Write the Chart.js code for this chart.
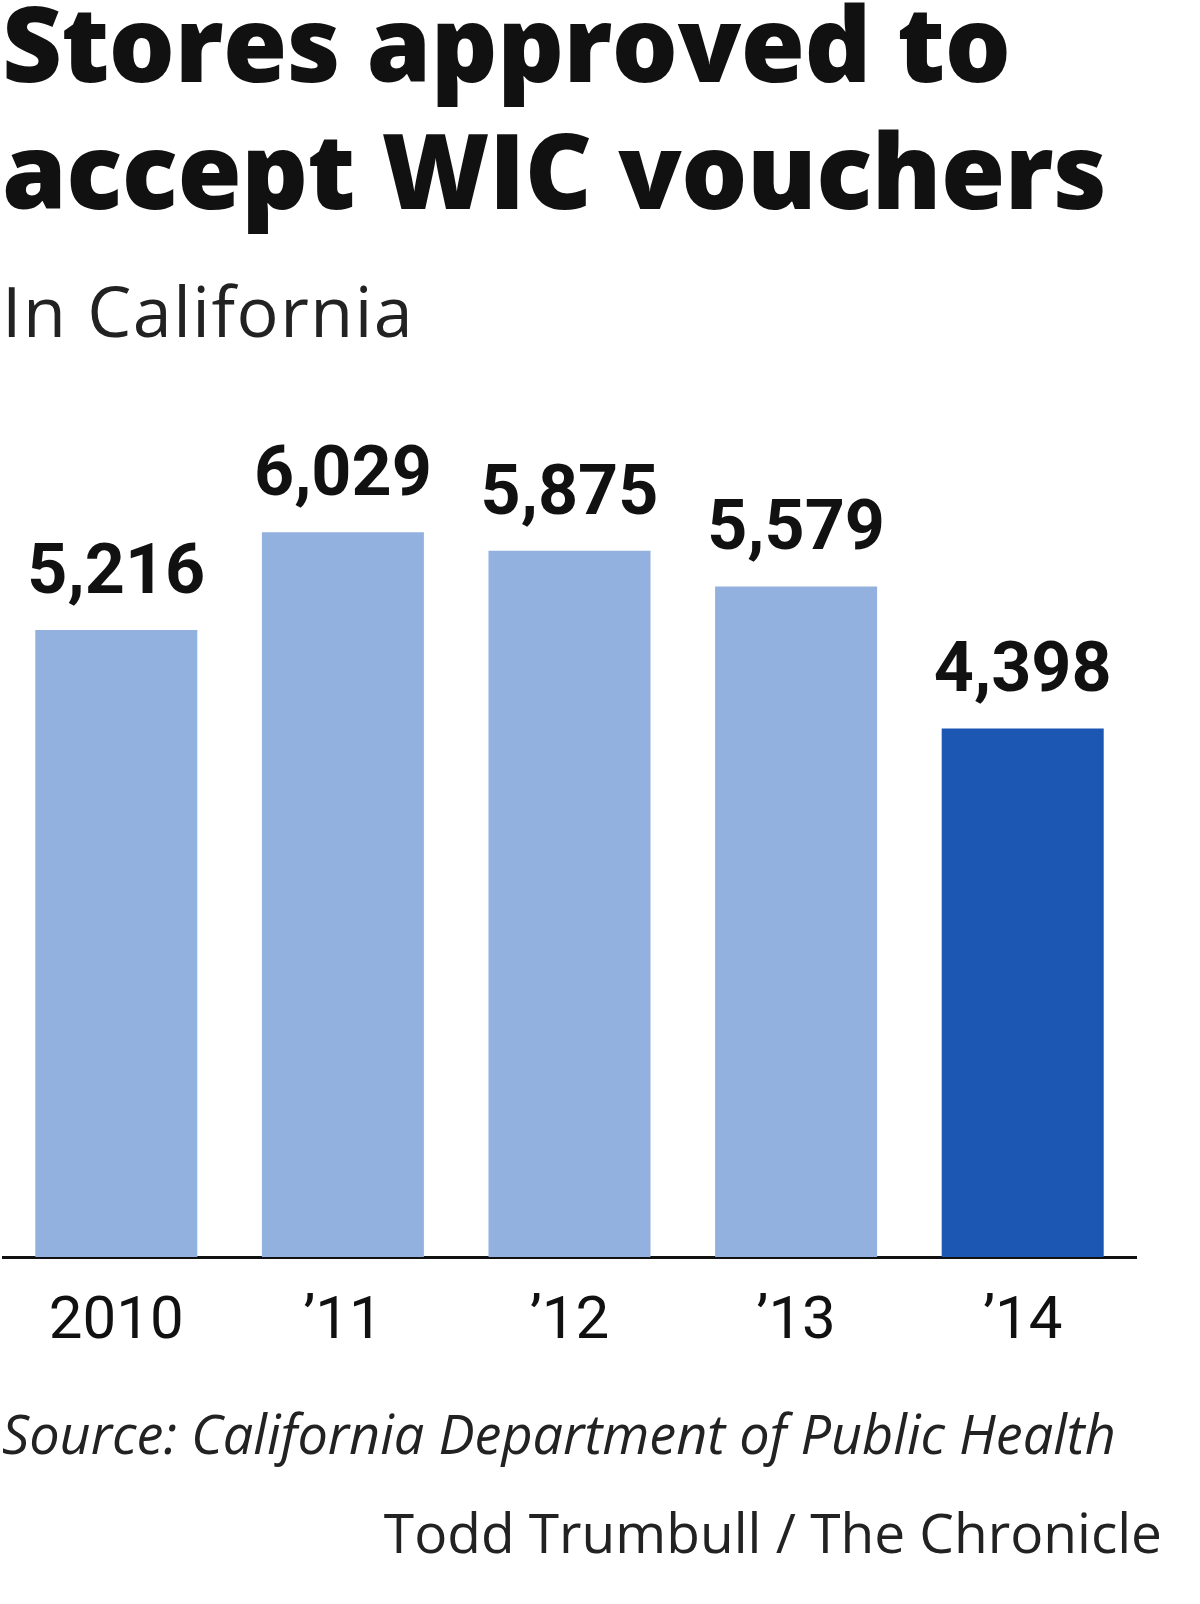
<!DOCTYPE html>
<html><head><meta charset="utf-8">
<script src="https://cdn.jsdelivr.net/npm/chart.js@4"></script>
<style>
body{margin:0;width:1200px;height:1604px;background:#fff;position:relative;overflow:hidden;font-family:"Open Sans";color:#111}
.t{position:absolute;left:2px;white-space:nowrap}
#title{top:-22px;font-weight:800;font-size:104px;line-height:127px;letter-spacing:-0.5px}
#sub{top:262px;font-size:70px;letter-spacing:1.5px;color:#222}
#src{top:1396px;font-size:54px;font-style:italic;color:#222}
#cred{top:1494px;left:auto;right:38px;font-size:55px;color:#222}
#wrap{position:absolute;left:0;top:400px;width:1200px;height:1000px}
</style></head><body>
<div class="t" id="title">Stores approved to<br>accept WIC vouchers</div>
<div class="t" id="sub">In California</div>
<div id="wrap"><canvas id="c"></canvas></div>
<div class="t" id="src">Source: California Department of Public Health</div>
<div class="t" id="cred">Todd Trumbull / The Chronicle</div>
<script>
const years = ["2010", "’11", "’12", "’13", "’14"];
const stores = [5216, 6029, 5875, 5579, 4398];
const barColors = ["#93b1df", "#93b1df", "#93b1df", "#93b1df", "#1c57b3"];

const valueLabels = {
  id: "valueLabels",
  afterDatasetsDraw(chart) {
    const ctx = chart.ctx;
    ctx.save();
    ctx.font = "700 70px Roboto";
    ctx.fillStyle = "#111";
    ctx.textAlign = "center";
    ctx.textBaseline = "alphabetic";
    chart.getDatasetMeta(0).data.forEach((bar, i) => {
      ctx.fillText(stores[i].toLocaleString("en-US"), bar.x, bar.y - 37);
    });
    ctx.restore();
  }
};

new Chart(document.getElementById("c"), {
  type: "bar",
  plugins: [valueLabels],
  data: {
    labels: years,
    datasets: [{ data: stores, backgroundColor: barColors, barPercentage: 0.715, categoryPercentage: 1 }]
  },
  options: {
    responsive: true,
    maintainAspectRatio: false,
    animation: false,
    layout: { padding: { left: 3, right: 64, top: 0 } },
    plugins: { legend: { display: false }, tooltip: { enabled: false } },
    scales: {
      y: { display: false, min: 0, max: 7130 },
      x: {
        grid: { display: false },
        border: { display: true, color: "#111", width: 3 },
        ticks: { color: "#111", font: { family: "Roboto", size: 60 }, padding: 22 },
        afterFit(scale) { scale.height = 143; }
      }
    }
  }
});
</script>
</body></html>
